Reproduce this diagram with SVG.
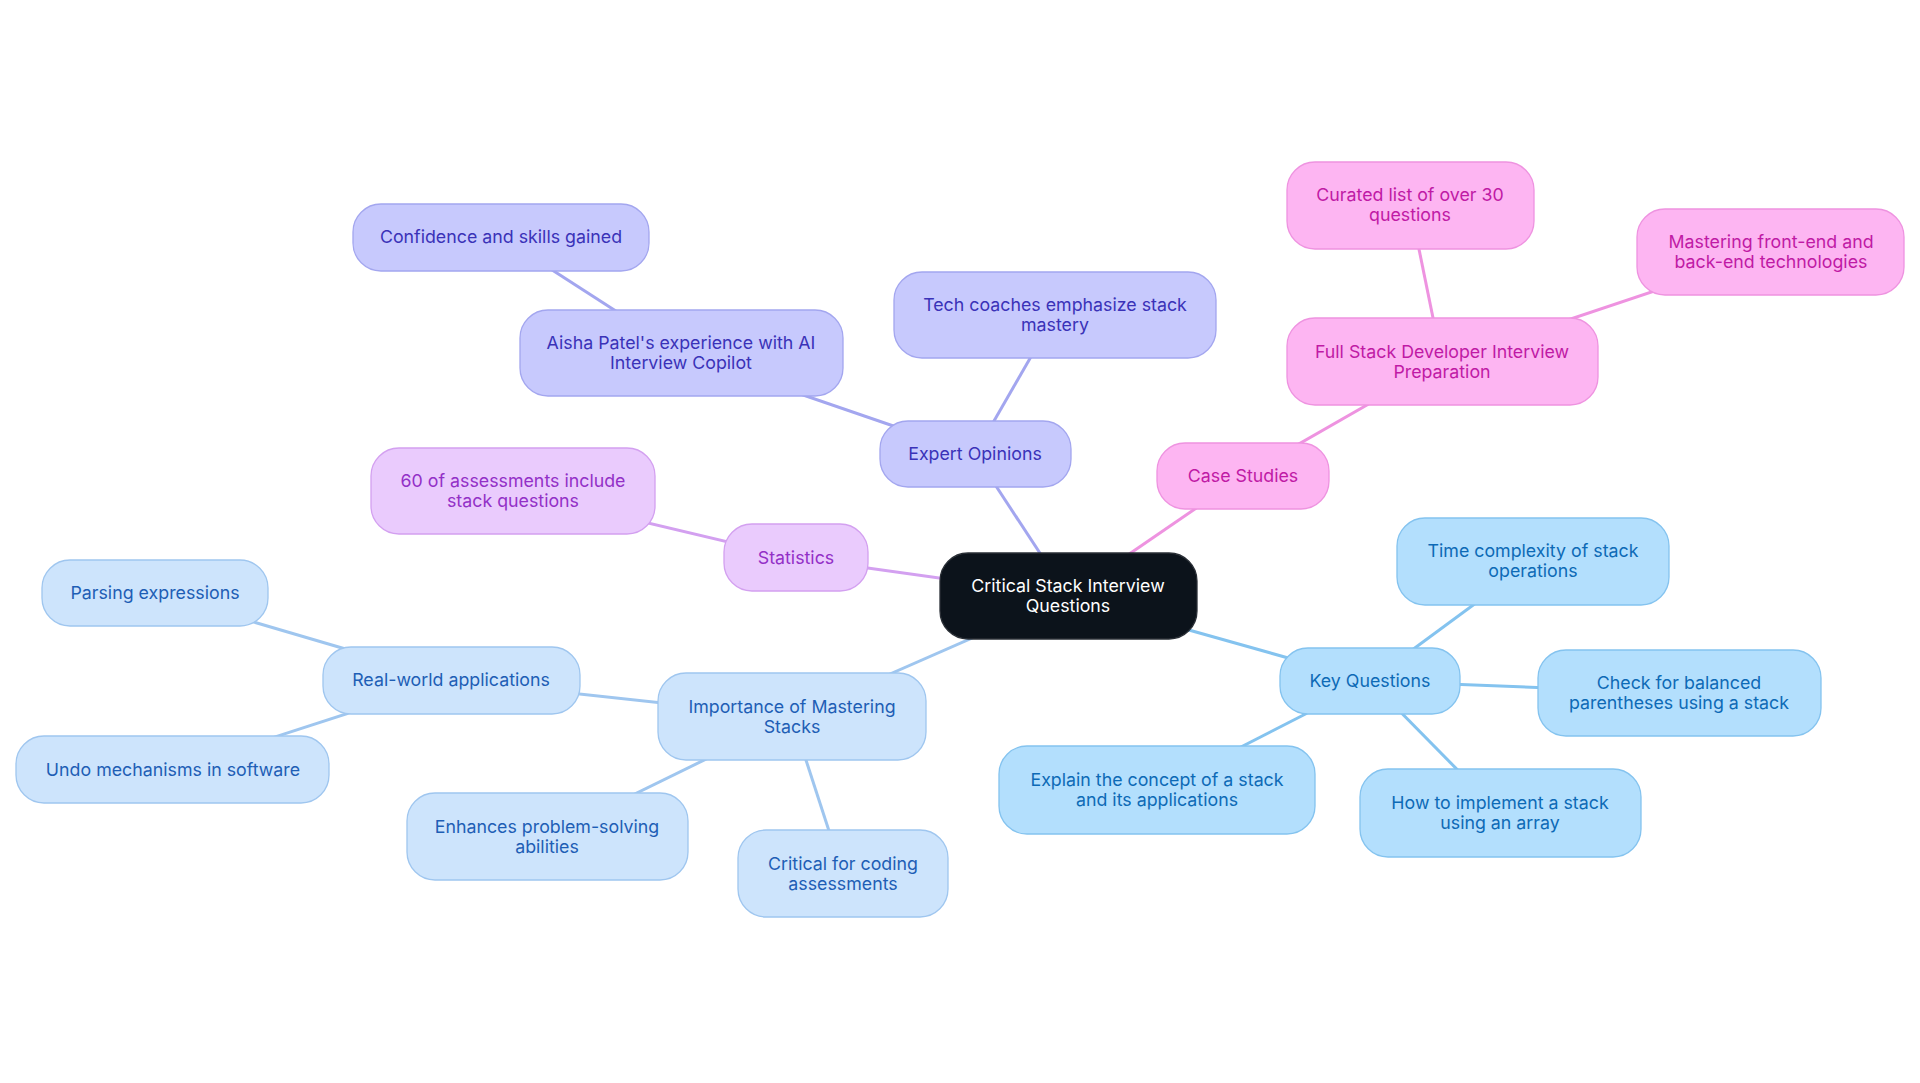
<svg xmlns="http://www.w3.org/2000/svg" width="1920" height="1083" viewBox="0 0 1920 1083">
<style>
text{font-family:Inter,"Noto Sans",sans-serif;font-size:17.8px;text-anchor:middle;dominant-baseline:central}
rect{stroke-width:1.3}
.e line{stroke-width:3;fill:none}
.root rect{fill:#0c131b;stroke:#2a2f36}
.root text{fill:#ffffff}
.ex rect{fill:#c7c9fd;stroke:#a3a6ef}
.ex text{fill:#3a32b8}
.cs rect{fill:#fdb5f2;stroke:#ee93e0}
.cs text{fill:#c01aa5}
.st rect{fill:#eacbfd;stroke:#d3a0f0}
.st text{fill:#9330c7}
.im rect{fill:#cde4fc;stroke:#9fc6ef}
.im text{fill:#1e5eb5}
.kq rect{fill:#b3dffd;stroke:#84c3ef}
.kq text{fill:#0d6ab6}
</style>
<rect x="0" y="0" width="1920" height="1083" fill="#ffffff"/>
<g id="connectors" class="e">
  <line x1="1068" y1="596" x2="975" y2="454" stroke="#a3a6ef"/>
  <line x1="975" y1="454" x2="681" y2="353" stroke="#a3a6ef"/>
  <line x1="681" y1="353" x2="501" y2="237" stroke="#a3a6ef"/>
  <line x1="975" y1="454" x2="1055" y2="315" stroke="#a3a6ef"/>
  <line x1="1068" y1="596" x2="1243" y2="476" stroke="#ee93e0"/>
  <line x1="1243" y1="476" x2="1442" y2="362" stroke="#ee93e0"/>
  <line x1="1442" y1="362" x2="1410" y2="205" stroke="#ee93e0"/>
  <line x1="1442" y1="362" x2="1771" y2="252" stroke="#ee93e0"/>
  <line x1="1068" y1="596" x2="796" y2="558" stroke="#d3a0f0"/>
  <line x1="796" y1="558" x2="513" y2="491" stroke="#d3a0f0"/>
  <line x1="1068" y1="596" x2="792" y2="717" stroke="#9fc6ef"/>
  <line x1="792" y1="717" x2="451" y2="680" stroke="#9fc6ef"/>
  <line x1="451" y1="680" x2="155" y2="593" stroke="#9fc6ef"/>
  <line x1="451" y1="680" x2="173" y2="770" stroke="#9fc6ef"/>
  <line x1="792" y1="717" x2="547" y2="837" stroke="#9fc6ef"/>
  <line x1="792" y1="717" x2="843" y2="874" stroke="#9fc6ef"/>
  <line x1="1068" y1="596" x2="1370" y2="681" stroke="#84c3ef"/>
  <line x1="1370" y1="681" x2="1533" y2="561" stroke="#84c3ef"/>
  <line x1="1370" y1="681" x2="1679" y2="693" stroke="#84c3ef"/>
  <line x1="1370" y1="681" x2="1157" y2="790" stroke="#84c3ef"/>
  <line x1="1370" y1="681" x2="1500" y2="813" stroke="#84c3ef"/>
</g>
<g id="root" class="root"><rect x="940" y="553" width="257" height="86" rx="28"/><text x="1068" y="585">Critical Stack Interview</text><text x="1068" y="605">Questions</text></g>
<g id="expert" class="ex"><rect x="880" y="421" width="191" height="66" rx="28"/><text x="975" y="453">Expert Opinions</text></g>
<g id="aisha" class="ex"><rect x="520" y="310" width="323" height="86" rx="28"/><text x="681" y="342">Aisha Patel's experience with AI</text><text x="681" y="362">Interview Copilot</text></g>
<g id="confidence" class="ex"><rect x="353" y="204" width="296" height="67" rx="28"/><text x="501" y="236">Confidence and skills gained</text></g>
<g id="techcoaches" class="ex"><rect x="894" y="272" width="322" height="86" rx="28"/><text x="1055" y="304">Tech coaches emphasize stack</text><text x="1055" y="324">mastery</text></g>
<g id="casestudies" class="cs"><rect x="1157" y="443" width="172" height="66" rx="28"/><text x="1243" y="475">Case Studies</text></g>
<g id="fullstack" class="cs"><rect x="1287" y="318" width="311" height="87" rx="28"/><text x="1442" y="351">Full Stack Developer Interview</text><text x="1442" y="371">Preparation</text></g>
<g id="curated" class="cs"><rect x="1287" y="162" width="247" height="87" rx="28"/><text x="1410" y="194">Curated list of over 30</text><text x="1410" y="214">questions</text></g>
<g id="mastering" class="cs"><rect x="1637" y="209" width="267" height="86" rx="28"/><text x="1771" y="241">Mastering front-end and</text><text x="1771" y="261">back-end technologies</text></g>
<g id="statistics" class="st"><rect x="724" y="524" width="144" height="67" rx="28"/><text x="796" y="557">Statistics</text></g>
<g id="sixty" class="st"><rect x="371" y="448" width="284" height="86" rx="28"/><text x="513" y="480">60 of assessments include</text><text x="513" y="500">stack questions</text></g>
<g id="importance" class="im"><rect x="658" y="673" width="268" height="87" rx="28"/><text x="792" y="706">Importance of Mastering</text><text x="792" y="726">Stacks</text></g>
<g id="realworld" class="im"><rect x="323" y="647" width="257" height="67" rx="28"/><text x="451" y="679">Real-world applications</text></g>
<g id="parsing" class="im"><rect x="42" y="560" width="226" height="66" rx="28"/><text x="155" y="592">Parsing expressions</text></g>
<g id="undo" class="im"><rect x="16" y="736" width="313" height="67" rx="28"/><text x="173" y="769">Undo mechanisms in software</text></g>
<g id="enhances" class="im"><rect x="407" y="793" width="281" height="87" rx="28"/><text x="547" y="826">Enhances problem-solving</text><text x="547" y="846">abilities</text></g>
<g id="criticalcoding" class="im"><rect x="738" y="830" width="210" height="87" rx="28"/><text x="843" y="863">Critical for coding</text><text x="843" y="883">assessments</text></g>
<g id="keyquestions" class="kq"><rect x="1280" y="648" width="180" height="66" rx="28"/><text x="1370" y="680">Key Questions</text></g>
<g id="timecomplexity" class="kq"><rect x="1397" y="518" width="272" height="87" rx="28"/><text x="1533" y="550">Time complexity of stack</text><text x="1533" y="570">operations</text></g>
<g id="balanced" class="kq"><rect x="1538" y="650" width="283" height="86" rx="28"/><text x="1679" y="682">Check for balanced</text><text x="1679" y="702">parentheses using a stack</text></g>
<g id="explain" class="kq"><rect x="999" y="746" width="316" height="88" rx="28"/><text x="1157" y="779">Explain the concept of a stack</text><text x="1157" y="799">and its applications</text></g>
<g id="implement" class="kq"><rect x="1360" y="769" width="281" height="88" rx="28"/><text x="1500" y="802">How to implement a stack</text><text x="1500" y="822">using an array</text></g>
</svg>
